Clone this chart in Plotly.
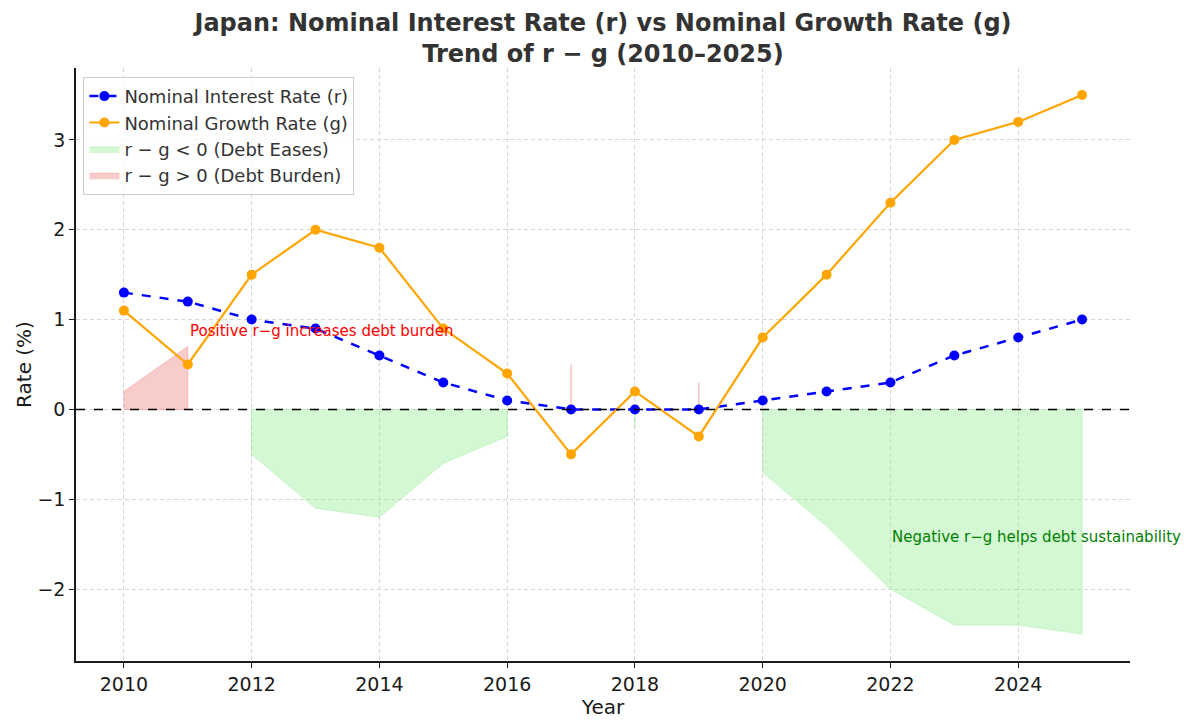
import plotly.graph_objects as go

years = list(range(2010, 2026))
r_vals = [1.3, 1.2, 1.0, 0.9, 0.6, 0.3, 0.1, 0.0, 0.0, 0.0, 0.1, 0.2, 0.3, 0.6, 0.8, 1.0]
g_vals = [1.1, 0.5, 1.5, 2.0, 1.8, 0.9, 0.4, -0.5, 0.2, -0.3, 0.8, 1.5, 2.3, 3.0, 3.2, 3.5]
x_ticks = [2010, 2012, 2014, 2016, 2018, 2020, 2022, 2024]
y_ticks = [-2, -1, 0, 1, 2, 3]

diff = [round(a - b, 4) for a, b in zip(r_vals, g_vals)]

GREEN = "rgba(144,238,144,0.4)"
RED = "rgba(240,128,128,0.4)"
FONT = "DejaVu Sans"

fig = go.Figure()


def runs(mask):
    out, cur = [], []
    for i, m in enumerate(mask):
        if m:
            cur.append(i)
        elif cur:
            out.append(cur)
            cur = []
    if cur:
        out.append(cur)
    return out


def add_fill(mask, color, name, rank):
    first = True
    for run in runs(mask):
        xs = [years[i] for i in run]
        ys = [diff[i] for i in run]
        px = xs + xs[::-1] + [xs[0]]
        py = ys + [0] * len(xs) + [ys[0]]
        fig.add_trace(go.Scatter(
            x=px, y=py, mode="lines", fill="toself", fillcolor=color,
            line=dict(color=color, width=1),
            name=name, legendgroup=name, legendrank=rank,
            showlegend=first, hoverinfo="skip",
        ))
        first = False


add_fill([d < 0 for d in diff], GREEN, "r − g < 0 (Debt Eases)", 3)
add_fill([d > 0 for d in diff], RED, "r − g > 0 (Debt Burden)", 4)

fig.add_trace(go.Scatter(
    x=years, y=r_vals, mode="lines+markers", name="Nominal Interest Rate (r)",
    line=dict(color="blue", width=2.5, dash="dash"),
    marker=dict(color="blue", size=10), legendrank=1,
))
fig.add_trace(go.Scatter(
    x=years, y=g_vals, mode="lines+markers", name="Nominal Growth Rate (g)",
    line=dict(color="orange", width=2.2),
    marker=dict(color="orange", size=10), legendrank=2,
))

fig.add_shape(type="line", xref="paper", yref="y", x0=0, x1=1, y0=0, y1=0,
              line=dict(color="black", width=1.5, dash="dash"), layer="above")

fig.add_annotation(x=2011, y=0.8, text="Positive r−g increases debt burden",
                   showarrow=False, xanchor="left", yanchor="bottom", yshift=-4,
                   font=dict(family=FONT, size=15, color="red"))
fig.add_annotation(x=2022, y=-1.5, text="Negative r−g helps debt sustainability",
                   showarrow=False, xanchor="left", yanchor="bottom", yshift=-4,
                   font=dict(family=FONT, size=15, color="green"))

fig.update_layout(
    width=1200, height=728,
    margin=dict(l=68, r=78, t=60, b=75, autoexpand=False),
    paper_bgcolor="white", plot_bgcolor="white",
    font=dict(family=FONT, color="#1a1a1a"),
    title=dict(
        text="<b>Japan: Nominal Interest Rate (r) vs Nominal Growth Rate (g)<br>Trend of r − g (2010–2025)</b>",
        x=0.5, xanchor="center", xref="paper",
        y=1 - 23 / 728, yanchor="top", yref="container",
        font=dict(family=FONT, size=24, color="#333333"),
    ),
    legend=dict(
        x=0.007, y=0.985, xanchor="left", yanchor="top",
        bgcolor="rgba(255,255,255,0.8)", bordercolor="#cccccc", borderwidth=1,
        font=dict(family=FONT, size=18, color="#333333"),
        tracegroupgap=0, traceorder="normal",
    ),
    showlegend=True,
)

fig.update_xaxes(
    range=[2009.25, 2025.75], tickvals=x_ticks, ticktext=[str(v) for v in x_ticks],
    title=dict(text="Year", font=dict(family=FONT, size=20, color="#1a1a1a"), standoff=2),
    tickfont=dict(family=FONT, size=19, color="#1a1a1a"),
    showline=True, linecolor="#1a1a1a", linewidth=1.5, mirror=False,
    ticks="outside", ticklen=5, tickcolor="#1a1a1a",
    showgrid=True, gridcolor="#d6d6d6", griddash="4px,3px", gridwidth=1,
    zeroline=False, automargin=False,
)
fig.update_yaxes(
    range=[-2.8, 3.8], tickvals=y_ticks, ticktext=[("−" + str(-v)) if v < 0 else str(v) for v in y_ticks],
    title=dict(text="Rate (%)", font=dict(family=FONT, size=20, color="#1a1a1a"), standoff=0),
    tickfont=dict(family=FONT, size=19, color="#1a1a1a"),
    showline=True, linecolor="#1a1a1a", linewidth=1.5, mirror=False,
    ticks="outside", ticklen=5, tickcolor="#1a1a1a",
    showgrid=True, gridcolor="#d6d6d6", griddash="4px,3px", gridwidth=1,
    zeroline=False, automargin=False,
)

fig.write_html("out.html")
